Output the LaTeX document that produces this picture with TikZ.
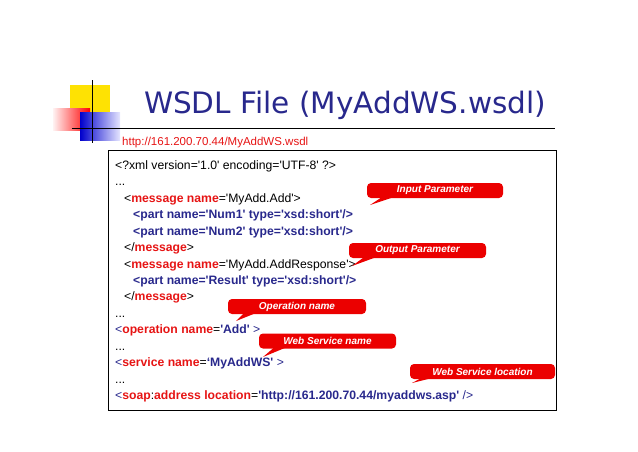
\documentclass[tikz,border=0pt]{standalone}
\usepackage{fontspec}
\setmainfont[Ligatures=TeXOff]{Liberation Sans}
\newfontfamily\titlefont{DejaVu Sans}
\definecolor{navy}{RGB}{40,40,140}
\definecolor{kw}{RGB}{230,20,20}
\definecolor{calred}{RGB}{235,0,0}
\begin{document}
\begin{tikzpicture}[x=1pt,y=-1pt,
  code/.style={anchor=base west,inner sep=0pt,font=\fontsize{12.2}{14}\selectfont},
  callout/.style={fill=calred,rounded corners=4pt,minimum width=#1,minimum height=15,inner sep=0pt,text=white,font=\fontsize{10}{11}\selectfont\bfseries\itshape}]
\useasboundingbox (0,0) rectangle (638,451);
% logo
\fill[yellow!85!orange] (70,85) rectangle (110,125);
\shade[left color=red!5,right color=red] (53,108) rectangle (90,130);
\shade[left color=blue!80!black,right color=blue!10] (80,112) rectangle (120,140);
\draw[line width=1pt] (92,80) -- (92,143);
\draw[line width=0.8pt] (72,128) -- (555,128);
\node[anchor=center,text=navy,font=\titlefont\fontsize{29.5}{32}\selectfont] (title) at (345,105) {WSDL File (MyAddWS.wsdl)};
\node[anchor=base west,text=kw,inner sep=0pt,font=\fontsize{11.5}{12}\selectfont] (url) at (122,145) {http://161.200.70.44/MyAddWS.wsdl};
\draw[line width=0.6pt] (108,150) rectangle (556,410);
\def\bk#1{\textcolor{navy}{\bfseries #1}}
\def\rd#1{\textcolor{kw}{\bfseries #1}}
\node[code] (l1) at (115,169) {<?xml version='1.0' encoding='UTF-8' ?>};
\node[code] (l2) at (115,185) {...};
\node[code] (l3) at (124,202) {<\rd{message name}='MyAdd.Add'>};
\node[code] (l4) at (133,218) {\bk{<part name='Num1' type='xsd:short'/>}};
\node[code] (l5) at (133,235) {\bk{<part name='Num2' type='xsd:short'/>}};
\node[code] (l6) at (124,251) {</\rd{message}>};
\node[code] (l7) at (124,268) {<\rd{message name}='MyAdd.AddResponse'>};
\node[code] (l8) at (133,284) {\bk{<part name='Result' type='xsd:short'/>}};
\node[code] (l9) at (124,300) {</\rd{message}>};
\node[code] (l10) at (115,317) {...};
\node[code] (l11) at (115,333) {\textcolor{navy}{<}\rd{operation name}=\bk{'Add'} \textcolor{navy}{>}};
\node[code] (l12) at (115,350) {...};
\node[code] (l13) at (115,366) {\textcolor{navy}{<}\rd{service name}=\bk{‘MyAddWS'} \textcolor{navy}{>}};
\node[code] (l14) at (115,383) {...};
\node[code] (l15) at (115,399) {\textcolor{navy}{<}\rd{soap}:\rd{address location}=\bk{'http://161.200.70.44/myaddws.asp'} \textcolor{navy}{/>}};
% callouts
\coordinate (t1) at (370,205);
\coordinate (t2) at (352,266);
\coordinate (t3) at (236,321);
\coordinate (t4) at (263,357);
\coordinate (t5) at (412,383);
\fill[calred] (t1) -- (385,195) -- (400,195) -- cycle;
\fill[calred] (t2) -- (367,255) -- (382,255) -- cycle;
\fill[calred] (t3) -- (246,311) -- (261,311) -- cycle;
\fill[calred] (t4) -- (277,345) -- (292,345) -- cycle;
\fill[calred] (t5) -- (425,376) -- (440,376) -- cycle;
\node[callout=136] (c1) at (435,190.5) {Input Parameter};
\node[callout=137] (c2) at (417.5,250.5) {Output Parameter};
\node[callout=138] (c3) at (297,306.5) {Operation name};
\node[callout=137] (c4) at (327.5,341) {Web Service name};
\node[callout=145] (c5) at (482.5,371.5) {Web Service location};
\end{tikzpicture}
\end{document}
